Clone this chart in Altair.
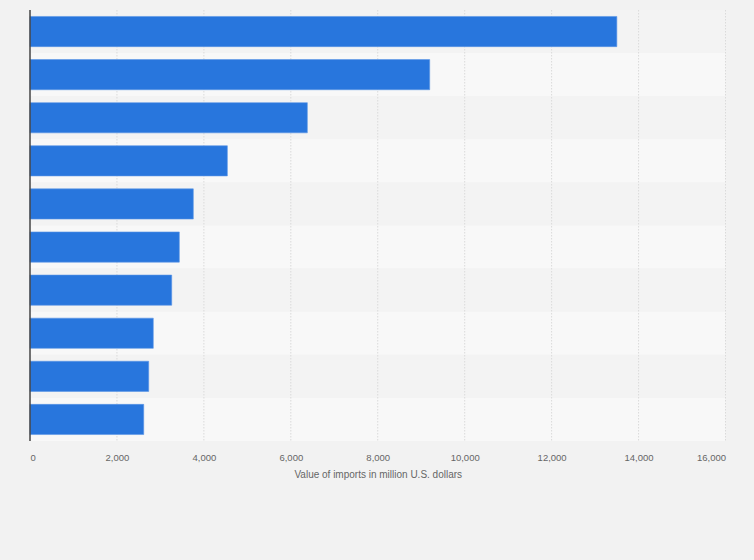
import altair as alt
import pandas as pd

categories = ["Rank 1", "Rank 2", "Rank 3", "Rank 4", "Rank 5",
              "Rank 6", "Rank 7", "Rank 8", "Rank 9", "Rank 10"]
values = [13500, 9195, 6380, 4540, 3757, 3435, 3260, 2836, 2731, 2616]
x_ticks = [0, 2000, 4000, 6000, 8000, 10000, 12000, 14000, 16000]
stripe_colors = ["#f3f3f3", "#f8f8f8"]

df = pd.DataFrame({
    "category": categories,
    "value": values,
    "stripe": [i % 2 for i in range(len(categories))],
})

x_scale = alt.Scale(domain=[0, 16000], nice=False)
x_axis = alt.Axis(values=x_ticks, format=",d", grid=False, domain=False,
                  ticks=False, labelFlush=True, labelPadding=11,
                  labelColor="#666666", labelFontSize=9.5,
                  labelFont="Liberation Sans",
                  title="Value of imports in million U.S. dollars",
                  titleColor="#666666", titleFontSize=10,
                  titleFont="Liberation Sans", titleFontWeight="normal",
                  titlePadding=8)

stripes = alt.Chart(df).mark_rect().encode(
    y=alt.Y("category:N", sort=categories, axis=None,
            scale=alt.Scale(paddingInner=0, paddingOuter=0)),
    x=alt.value(0),
    x2=alt.value(695.5),
    color=alt.Color("stripe:N", legend=None,
                    scale=alt.Scale(domain=[0, 1], range=stripe_colors)),
)

grid = alt.Chart(pd.DataFrame({"value": x_ticks[1:]})).mark_rule(
    color="#dadada", strokeWidth=1, strokeDash=[1.5, 1.5]
).encode(
    x=alt.X("value:Q", scale=x_scale, axis=x_axis),
)

bars = alt.Chart(df).mark_bar(color="#2876dd", stroke="#5a96e6", strokeWidth=0.6).encode(
    y=alt.Y("category:N", sort=categories,
            scale=alt.Scale(paddingInner=0.3, paddingOuter=0.15), axis=None),
    x=alt.X("value:Q", scale=x_scale, axis=x_axis),
)

baseline = alt.Chart(pd.DataFrame({"value": [0]})).mark_rule(
    color="#444444", strokeWidth=1.5
).encode(
    x=alt.X("value:Q", scale=x_scale, axis=x_axis),
)

chart = alt.layer(stripes, grid, bars, baseline).resolve_scale(y="independent").properties(
    width=695.5,
    height=431,
    autosize=alt.AutoSizeParams(type="none"),
    padding={"left": 30, "top": 10, "right": 28.5, "bottom": 119},
    background="#f2f2f2",
).configure_view(stroke=None)

chart.save("out.html", embed_options={"renderer": "svg", "actions": False})
